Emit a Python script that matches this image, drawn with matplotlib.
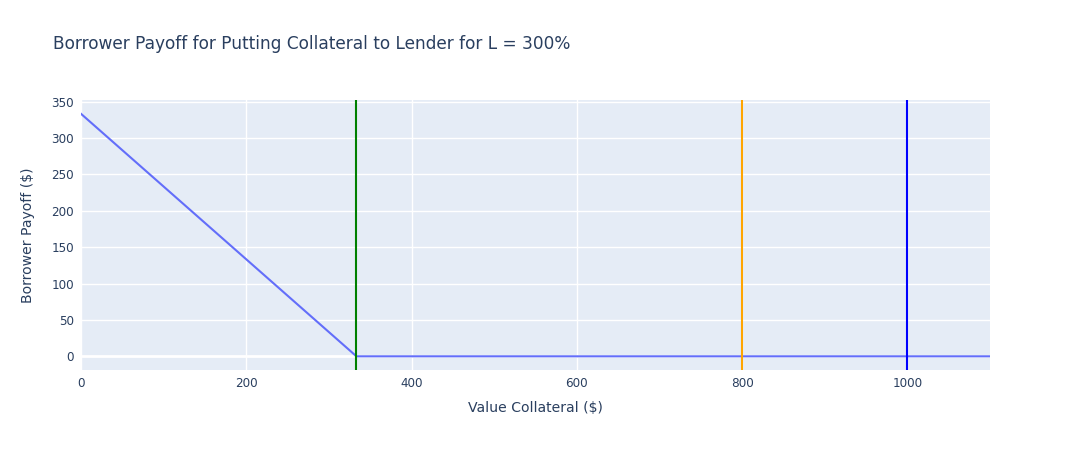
import matplotlib
matplotlib.use('Agg')
import matplotlib.pyplot as plt

plt.rcParams['font.family'] = ['DejaVu Sans']

# payoff of putting the collateral back to the lender, L = 300%
collateral = [0.0, 333.33, 1100.0]
payoff = [333.33, 0.0, 0.0]

# reference lines: break-even, and two collateral levels
vline_x = [333.33, 800.0, 1000.0]
vline_colors = ['green', 'orange', 'blue']

xticks = [0, 200, 400, 600, 800, 1000]
yticks = [0, 50, 100, 150, 200, 250, 300, 350]

text_color = '#2a3f5f'
W, H = 1070, 450

fig = plt.figure(figsize=(W / 100, H / 100), dpi=100)
ax = fig.add_axes([81 / W, (H - 370) / H, (990 - 81) / W, 270 / H])
ax.set_facecolor('#e5ecf6')
for s in ax.spines.values():
    s.set_visible(False)

ax.set_xlim(0, 1100)
ax.set_ylim(-18.8, 352.3)
ax.set_xticks(xticks)
ax.set_yticks(yticks)
ax.grid(True, color='white', linewidth=1)
ax.set_axisbelow(True)
ax.axhline(0, color='white', linewidth=2, zorder=0.5)
ax.tick_params(length=0, labelsize=8.64, colors=text_color, pad=5)

ax.plot(collateral, payoff, color='#636efa', linewidth=1.5, zorder=3)
for xv, c in zip(vline_x, vline_colors):
    ax.axvline(xv, color=c, linewidth=1.5, zorder=4)

ax.set_xlabel('Value Collateral (\\$)', fontsize=10.08, color=text_color, labelpad=8)
ax.set_ylabel('Borrower Payoff (\\$)', fontsize=10.08, color=text_color, labelpad=12)
fig.text(53 / W, 1 - 44 / H, 'Borrower Payoff for Putting Collateral to Lender for L = 300%',
         fontsize=12.24, color=text_color, va='center', ha='left')

fig.savefig('out.png', dpi=100, facecolor='white')
